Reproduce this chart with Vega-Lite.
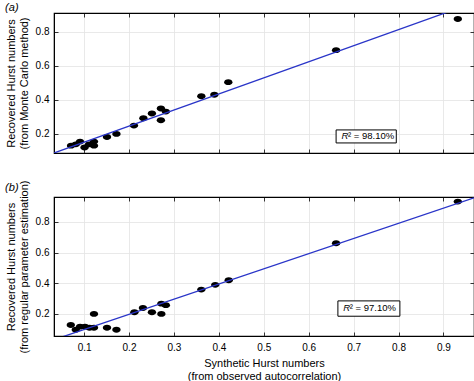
{
  "$schema": "https://vega.github.io/schema/vega-lite/v6.json",
  "padding": {"left": 4, "top": 0, "right": 0, "bottom": 0},
  "config": {
    "font": "Liberation Sans",
    "view": {"stroke": "black", "strokeWidth": 1.2},
    "axis": {
      "labelFontSize": 10, "labelColor": "black", "titleFontSize": 11, "titleFontWeight": "normal", "titleColor": "black",
      "domainColor": "black", "tickColor": "#333", "tickSize": -4,
      "gridColor": "#e3e3e3", "gridWidth": 0.8, "titleLineHeight": 13
    },
    "axisX": {"labelPadding": 10},
    "axisY": {"labelPadding": 9},
    "title": {"fontSize": 11, "fontWeight": "normal", "anchor": "start", "fontStyle": "italic"}
  },
  "datasets": {
    "a": [
      {"x": 0.071, "y": 0.131}, {"x": 0.0815, "y": 0.139}, {"x": 0.091, "y": 0.155}, {"x": 0.101, "y": 0.12},
      {"x": 0.111, "y": 0.139}, {"x": 0.122, "y": 0.131}, {"x": 0.122, "y": 0.155}, {"x": 0.151, "y": 0.182},
      {"x": 0.172, "y": 0.2}, {"x": 0.211, "y": 0.249}, {"x": 0.232, "y": 0.292}, {"x": 0.251, "y": 0.32},
      {"x": 0.271, "y": 0.349}, {"x": 0.271, "y": 0.28}, {"x": 0.282, "y": 0.331}, {"x": 0.361, "y": 0.421},
      {"x": 0.39, "y": 0.43}, {"x": 0.421, "y": 0.504}, {"x": 0.661, "y": 0.692}, {"x": 0.932, "y": 0.875}
    ],
    "b": [
      {"x": 0.0704, "y": 0.128}, {"x": 0.0815, "y": 0.097}, {"x": 0.091, "y": 0.117}, {"x": 0.102, "y": 0.117},
      {"x": 0.112, "y": 0.11}, {"x": 0.122, "y": 0.11}, {"x": 0.122, "y": 0.2}, {"x": 0.151, "y": 0.11},
      {"x": 0.172, "y": 0.097}, {"x": 0.212, "y": 0.211}, {"x": 0.231, "y": 0.239}, {"x": 0.251, "y": 0.211},
      {"x": 0.272, "y": 0.267}, {"x": 0.272, "y": 0.2}, {"x": 0.282, "y": 0.257}, {"x": 0.361, "y": 0.359},
      {"x": 0.392, "y": 0.39}, {"x": 0.422, "y": 0.42}, {"x": 0.661, "y": 0.661}, {"x": 0.932, "y": 0.933}
    ],
    "fitA": [{"x": 0.033, "y": 0.088}, {"x": 0.968, "y": 0.971}],
    "fitB": [{"x": 0.033, "y": 0.032}, {"x": 0.968, "y": 0.957}],
    "boxA": [{"x": 0.661, "x2": 0.795, "y": 0.147, "y2": 0.2235, "xt": 0.673, "yc": 0.185, "r": "R", "label": "² = 98.10%"}],
    "boxB": [{"x": 0.665, "x2": 0.803, "y": 0.185, "y2": 0.285, "xt": 0.677, "yc": 0.236, "r": "R", "label": "² = 97.10%"}]
  },
  "spacing": 24,
  "vconcat": [
    {
      "width": 420, "height": 140,
      "title": {"text": "(a)", "offset": 0},
      "resolve": {"axis": {"x": "independent", "y": "independent"}},
      "layer": [
        {
          "data": {"name": "a"},
          "mark": {"type": "point", "filled": true, "color": "black", "opacity": 1, "size": 70, "shape": "M -1 0 A 1 0.7 0 1 0 1 0 A 1 0.7 0 1 0 -1 0 Z"},
          "encoding": {
            "x": {"field": "x", "type": "quantitative", "scale": {"domain": [0.033, 0.968], "nice": false, "zero": false},
                  "axis": {"values": [0.1,0.2,0.3,0.4,0.5,0.6,0.7,0.8,0.9], "labels": false, "title": null, "grid": true}},
            "y": {"field": "y", "type": "quantitative", "scale": {"domain": [0.088, 0.91], "nice": false, "zero": false},
                  "axis": {"values": [0.2,0.4,0.6,0.8], "format": ".1f", "grid": true, "title": ["Recovered Hurst numbers", "(from Monte Carlo method)"], "titlePadding": 6}}
          }
        },
        {
          "data": {"name": "fitA"},
          "mark": {"type": "line", "color": "#2a35c8", "strokeWidth": 1.3, "clip": true},
          "encoding": {
            "x": {"field": "x", "type": "quantitative", "axis": {"orient": "top", "values": [0.1,0.2,0.3,0.4,0.5,0.6,0.7,0.8,0.9], "labels": false, "title": null, "grid": false}},
            "y": {"field": "y", "type": "quantitative", "axis": {"orient": "right", "values": [0.2,0.4,0.6,0.8], "labels": false, "title": null, "grid": false}}
          }
        },
        {
          "data": {"name": "boxA"},
          "mark": {"type": "rect", "fill": "white", "stroke": "black", "strokeWidth": 1},
          "encoding": {
            "x": {"field": "x", "type": "quantitative", "axis": null}, "x2": {"field": "x2"},
            "y": {"field": "y", "type": "quantitative", "axis": null}, "y2": {"field": "y2"}
          }
        },
        {
          "data": {"name": "boxA"},
          "mark": {"type": "text", "fontSize": 9.5, "fontStyle": "italic", "color": "black", "align": "left", "baseline": "middle"},
          "encoding": {
            "x": {"field": "xt", "type": "quantitative", "axis": null},
            "y": {"field": "yc", "type": "quantitative", "axis": null},
            "text": {"field": "r"}
          }
        },
        {
          "data": {"name": "boxA"},
          "mark": {"type": "text", "fontSize": 9.5, "color": "black", "align": "left", "baseline": "middle", "dx": 6.5},
          "encoding": {
            "x": {"field": "xt", "type": "quantitative", "axis": null},
            "y": {"field": "yc", "type": "quantitative", "axis": null},
            "text": {"field": "label"}
          }
        }
      ]
    },
    {
      "width": 420, "height": 139,
      "title": {"text": "(b)", "offset": -13},
      "resolve": {"axis": {"x": "independent", "y": "independent"}},
      "layer": [
        {
          "data": {"name": "b"},
          "mark": {"type": "point", "filled": true, "color": "black", "opacity": 1, "size": 70, "shape": "M -1 0 A 1 0.7 0 1 0 1 0 A 1 0.7 0 1 0 -1 0 Z"},
          "encoding": {
            "x": {"field": "x", "type": "quantitative", "scale": {"domain": [0.033, 0.968], "nice": false, "zero": false},
                  "axis": {"values": [0.1,0.2,0.3,0.4,0.5,0.6,0.7,0.8,0.9], "format": ".1f", "grid": true, "title": ["Synthetic Hurst numbers", "(from observed autocorrelation)"], "titlePadding": 5}},
            "y": {"field": "y", "type": "quantitative", "scale": {"domain": [0.056, 0.963], "nice": false, "zero": false},
                  "axis": {"values": [0.2,0.4,0.6,0.8], "format": ".1f", "grid": true, "title": ["Recovered Hurst numbers", "(from regular parameter estimation)"], "titlePadding": 6}}
          }
        },
        {
          "data": {"name": "fitB"},
          "mark": {"type": "line", "color": "#2a35c8", "strokeWidth": 1.3, "clip": true},
          "encoding": {
            "x": {"field": "x", "type": "quantitative", "axis": {"orient": "top", "values": [0.1,0.2,0.3,0.4,0.5,0.6,0.7,0.8,0.9], "labels": false, "title": null, "grid": false}},
            "y": {"field": "y", "type": "quantitative", "axis": {"orient": "right", "values": [0.2,0.4,0.6,0.8], "labels": false, "title": null, "grid": false}}
          }
        },
        {
          "data": {"name": "boxB"},
          "mark": {"type": "rect", "fill": "white", "stroke": "black", "strokeWidth": 1},
          "encoding": {
            "x": {"field": "x", "type": "quantitative", "axis": null}, "x2": {"field": "x2"},
            "y": {"field": "y", "type": "quantitative", "axis": null}, "y2": {"field": "y2"}
          }
        },
        {
          "data": {"name": "boxB"},
          "mark": {"type": "text", "fontSize": 9.5, "fontStyle": "italic", "color": "black", "align": "left", "baseline": "middle"},
          "encoding": {
            "x": {"field": "xt", "type": "quantitative", "axis": null},
            "y": {"field": "yc", "type": "quantitative", "axis": null},
            "text": {"field": "r"}
          }
        },
        {
          "data": {"name": "boxB"},
          "mark": {"type": "text", "fontSize": 9.5, "color": "black", "align": "left", "baseline": "middle", "dx": 6.5},
          "encoding": {
            "x": {"field": "xt", "type": "quantitative", "axis": null},
            "y": {"field": "yc", "type": "quantitative", "axis": null},
            "text": {"field": "label"}
          }
        }
      ]
    }
  ]
}
